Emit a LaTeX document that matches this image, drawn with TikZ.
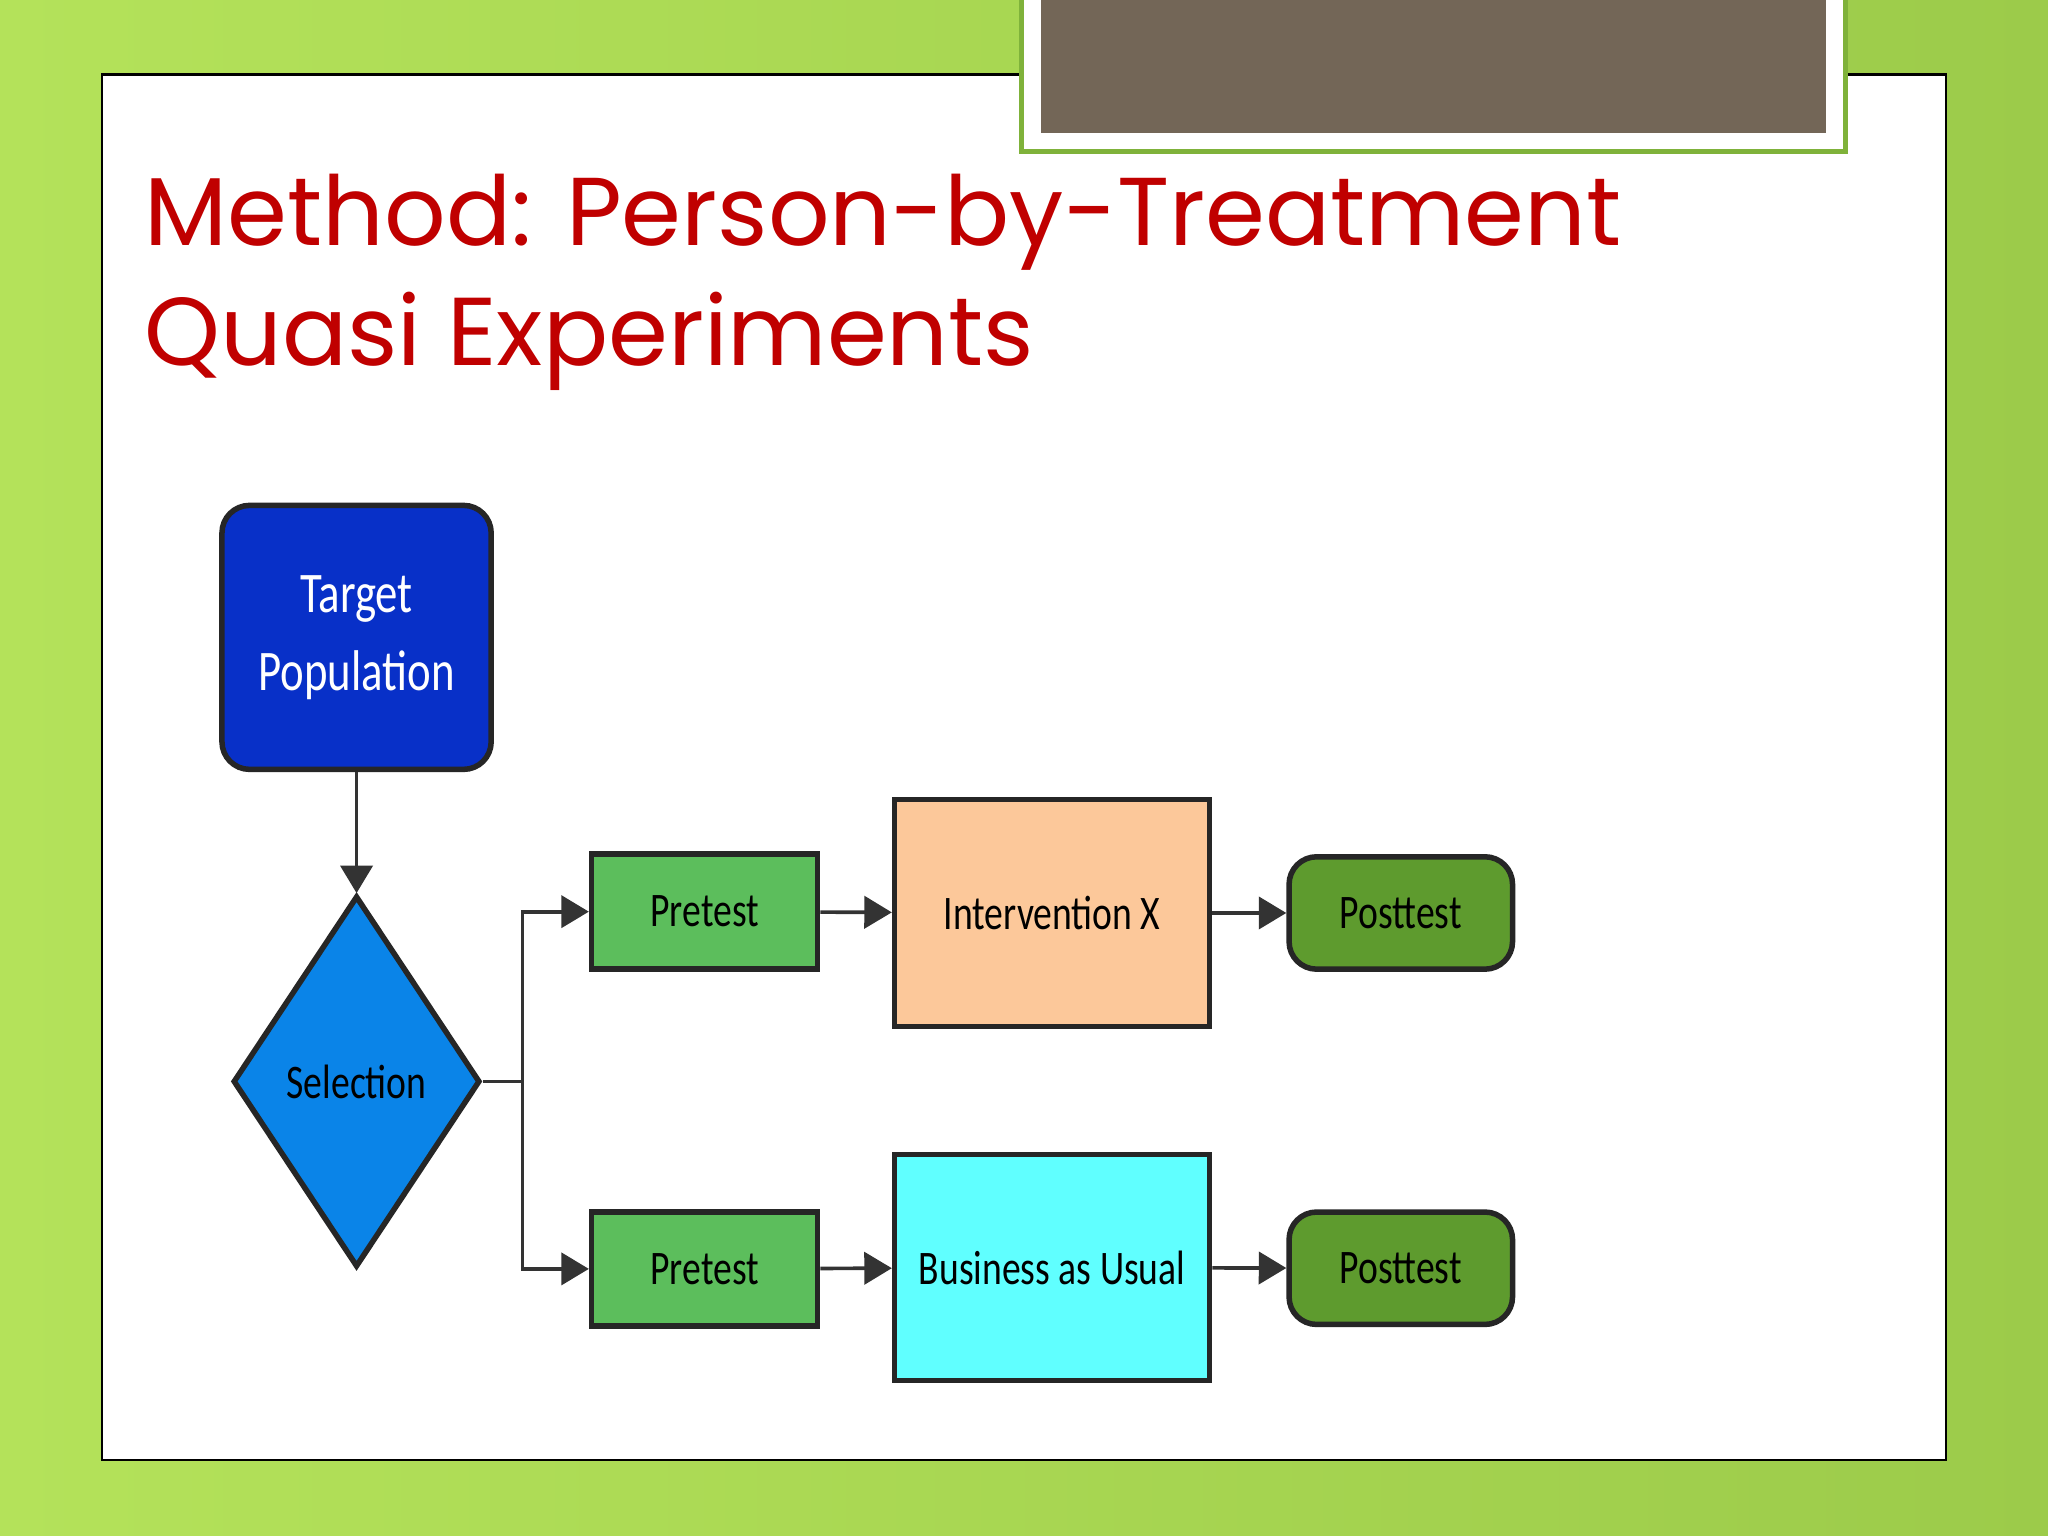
\documentclass[tikz,border=0pt]{standalone}
\usepackage{fontspec}
\setmainfont{Poppins}
\newfontfamily\boxfont[FakeStretch=0.78]{Carlito}
\usetikzlibrary{shapes.geometric,arrows.meta}
\definecolor{titred}{HTML}{C00000}
\definecolor{tabbrown}{HTML}{736657}
\definecolor{bgl}{HTML}{B4E25A}
\definecolor{bgr}{HTML}{9CCB4A}
\definecolor{tabgreen}{HTML}{7FB23A}
\tikzset{
 box/.style={draw=black!85,line width=1.2pt,font=\boxfont\fontsize{10.5}{13}\selectfont,align=center,inner sep=1pt},
 arr/.style={draw=black!80,line width=0.8pt,-{Triangle[length=6pt,width=7pt]}},
}
\begin{document}
\begin{tikzpicture}[x=0.01cm,y=-0.01cm]
\shade[left color=bgl, right color=bgr] (0,0) rectangle (1568,1176);
\useasboundingbox (0,0) rectangle (1568,1176);
\draw[fill=white,line width=0.5pt] (78,57) rectangle (1490,1118);
\draw[fill=white,draw=tabgreen,line width=1pt] (782,-5) rectangle (1413,116);
\fill[tabbrown] (797,-5) rectangle (1398,102);
\node[anchor=base west,text=titred,font=\fontsize{21}{26}\selectfont,inner sep=0] (t1) at (110,188) {Method: Person-by-Treatment};
\node[anchor=base west,text=titred,font=\fontsize{21}{26}\selectfont,inner sep=0] (t2) at (110,280) {Quasi Experiments};
% diagram
\node[box,fill={rgb,255:red,8;green,48;blue,200},text=white,rounded corners=6pt,minimum width=2.06cm,minimum height=2.02cm,font=\boxfont\fontsize{12.5}{17}\selectfont] (tp) at (273,488) {Target\\Population};
\node[box,diamond,fill={rgb,255:red,10;green,132;blue,232},minimum width=1.89cm,minimum height=2.84cm,inner sep=0,aspect=0.66] (sel) at (273,828) {Selection};
\node[box,fill={rgb,255:red,92;green,190;blue,92},minimum width=1.73cm,minimum height=0.88cm] (p1) at (539.5,698) {Pretest};
\node[box,fill={rgb,255:red,92;green,190;blue,92},minimum width=1.73cm,minimum height=0.87cm] (p2) at (539.5,971.5) {Pretest};
\node[box,fill={rgb,255:red,252;green,200;blue,154},minimum width=2.41cm,minimum height=1.74cm] (ix) at (805.5,699) {Intervention X};
\node[box,fill={rgb,255:red,96;green,255;blue,255},minimum width=2.41cm,minimum height=1.73cm] (bu) at (805.5,970.5) {Business as Usual};
\node[box,fill={rgb,255:red,94;green,155;blue,46},rounded corners=6pt,minimum width=1.71cm,minimum height=0.86cm] (q1) at (1072.5,699) {Posttest};
\node[box,fill={rgb,255:red,94;green,155;blue,46},rounded corners=6pt,minimum width=1.71cm,minimum height=0.86cm] (q2) at (1072.5,971) {Posttest};
\draw[arr] (tp) -- (sel.north);
\coordinate (br) at (400,828);
\draw[draw=black!80,line width=0.8pt] (sel.east) -- (br);
\draw[arr] (br) |- (p1.west);
\draw[arr] (br) |- (p2.west);
\draw[arr] (p1) -- (ix);
\draw[arr] (p2) -- (bu);
\draw[arr] (ix) -- (q1);
\draw[arr] (bu) -- (q2);
\end{tikzpicture}
\end{document}
